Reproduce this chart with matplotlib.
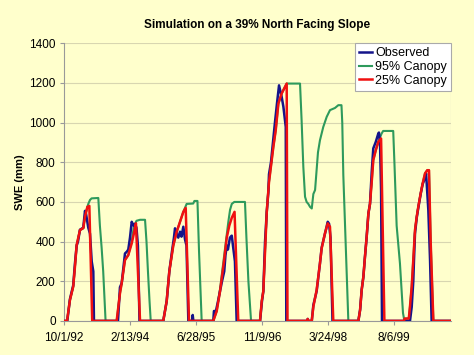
import numpy as np
import pandas as pd
import matplotlib
matplotlib.use("Agg")
import matplotlib.pyplot as plt

plt.rcParams["font.family"] = ["Liberation Sans", "DejaVu Sans"]

START = pd.Timestamp("1992-10-01")

# days since 10/1/92, SWE in mm
obs_days = [0, 25, 45, 70, 83, 96, 106, 121, 146, 159, 167, 184, 197, 210, 222, 227,
            409, 424, 437, 447, 462, 477, 487, 500, 513, 528, 538, 549, 560, 572,
            752, 778, 798, 818, 833, 841, 854, 866, 879, 890, 904, 917, 928, 942, 970, 975, 980,
            1131, 1136, 1151, 1167, 1182, 1197, 1214, 1223, 1233, 1242, 1257, 1271, 1280, 1295, 1308,
            1485, 1500, 1510, 1523, 1536, 1548, 1553, 1568, 1583, 1598, 1614, 1629, 1649, 1662, 1680, 1684,
            1841, 1846, 1851, 1877, 1889, 1914, 1939, 1952, 1977, 1998, 2008, 2019, 2034,
            2230, 2243, 2255, 2268, 2280, 2293, 2306, 2318, 2331, 2343, 2362, 2381, 2386, 2394, 2402, 2409,
            2621, 2634, 2646, 2651, 2659, 2672, 2684, 2702, 2717, 2735, 2743, 2760, 2773, 2785, 2930]
obs_swe = [0, 0, 110, 180, 290, 380, 400, 460, 470, 555, 540, 470, 440, 300, 250, 0,
           0, 170, 190, 250, 340, 350, 360, 420, 500, 480, 490, 470, 380, 0,
           0, 100, 250, 350, 420, 467, 440, 420, 450, 425, 475, 410, 380, 0, 0, 30, 0,
           0, 50, 50, 100, 150, 200, 250, 330, 380, 360, 420, 430, 380, 300, 0,
           0, 100, 150, 400, 550, 650, 740, 800, 900, 1000, 1100, 1188, 1130, 1080, 978, 0,
           0, 10, 0, 0, 80, 150, 290, 370, 440, 500, 490, 420, 0,
           0, 55, 156, 223, 324, 425, 542, 590, 750, 870, 903, 945, 950, 900, 660, 0,
           0, 70, 200, 300, 440, 520, 570, 640, 690, 720, 744, 559, 307, 0, 0]

c95_days = [0, 23, 45, 70, 83, 96, 121, 146, 159, 177, 184, 197, 209, 260, 272, 285, 297, 306, 315,
            399, 424, 437, 462, 487, 513, 528, 549, 576, 614, 625, 636, 648, 657,
            752, 778, 798, 828, 854, 879, 904, 929, 979, 988, 1011, 1023, 1034, 1043,
            1131, 1157, 1182, 1212, 1233, 1245, 1258, 1271, 1290, 1371, 1382, 1397, 1417,
            1485, 1498, 1510, 1523, 1536, 1553, 1586, 1604, 1624, 1649, 1687, 1788, 1800, 1813,
            1826, 1838, 1851, 1864, 1877, 1889, 1902, 1914, 1924, 1939, 1964, 1990, 2015, 2053,
            2078, 2102, 2108, 2116, 2136, 2154,
            2230, 2243, 2255, 2268, 2280, 2293, 2306, 2318, 2331, 2343, 2362, 2381, 2406, 2418,
            2494, 2503, 2520, 2545, 2568, 2576,
            2612, 2621, 2634, 2646, 2659, 2672, 2684, 2702, 2717, 2735, 2752, 2765, 2778, 2798, 2930]
c95_swe = [0, 0, 105, 173, 273, 383, 458, 468, 525, 575, 590, 610, 618, 620, 480, 370, 250, 120, 0,
           0, 139, 190, 307, 332, 400, 470, 505, 510, 510, 400, 250, 100, 0,
           0, 100, 250, 380, 450, 500, 550, 590, 592, 605, 605, 350, 150, 0,
           0, 50, 160, 320, 430, 500, 560, 590, 600, 600, 420, 200, 0,
           0, 100, 150, 350, 550, 700, 878, 962, 1096, 1147, 1197, 1197, 1012, 777,
           626, 600, 590, 575, 567, 640, 660, 760, 850, 911, 978, 1029, 1063, 1074,
           1088, 1088, 1000, 735, 350, 0,
           0, 55, 156, 223, 324, 425, 542, 590, 700, 811, 861, 903, 945, 958,
           958, 800, 480, 290, 40, 10,
           12, 72, 173, 307, 458, 525, 576, 643, 693, 744, 760, 760, 392, 0, 0]

c25_days = [0, 23, 45, 70, 83, 96, 121, 146, 159, 177, 192, 214,
            399, 424, 437, 462, 487, 513, 530, 545, 576,
            752, 778, 798, 828, 854, 879, 904, 922, 947,
            1131, 1157, 1182, 1212, 1233, 1252, 1271, 1292, 1320,
            1485, 1498, 1510, 1523, 1536, 1553, 1586, 1604, 1624, 1649, 1687, 1693,
            1841, 1846, 1851, 1877, 1889, 1914, 1939, 1952, 1977, 1998, 2015, 2040,
            2230, 2243, 2255, 2268, 2280, 2293, 2306, 2318, 2331, 2343, 2362, 2381, 2402, 2427,
            2576, 2580, 2612, 2621, 2634, 2646, 2659, 2672, 2684, 2702, 2717, 2735, 2752, 2765, 2778, 2798, 2930]
c25_swe = [0, 0, 105, 173, 273, 383, 458, 468, 525, 575, 580, 0,
           0, 139, 190, 307, 332, 391, 442, 492, 0,
           0, 100, 250, 380, 450, 500, 550, 570, 0,
           0, 50, 150, 300, 420, 480, 520, 550, 0,
           0, 100, 150, 350, 550, 700, 878, 962, 1096, 1147, 1197, 0,
           0, 10, 0, 0, 72, 156, 290, 366, 442, 492, 475, 0,
           0, 55, 156, 223, 324, 425, 542, 590, 700, 811, 861, 903, 920, 0,
           0, 12, 12, 72, 173, 307, 458, 525, 576, 643, 693, 744, 760, 760, 392, 0, 0]

tick_days = [0, 500, 1000, 1500, 2000, 2500]
tick_labels = ["10/1/92", "2/13/94", "6/28/95", "11/9/96", "3/24/98", "8/6/99"]


def to_dates(days):
    return START + pd.to_timedelta(np.asarray(days), unit="D")


bg = "#ffffcc"
fig = plt.figure(figsize=(4.74, 3.55), dpi=100, facecolor=bg)
ax = fig.add_axes([0.135, 0.096, 0.816, 0.782], facecolor=bg)

ax.plot(to_dates(obs_days), obs_swe, color="#14148a", lw=1.8, label="Observed", zorder=3)
ax.plot(to_dates(c95_days), c95_swe, color="#2e9a5c", lw=1.5, label="95% Canopy", zorder=2)
ax.plot(to_dates(c25_days), c25_swe, color="#f01010", lw=1.8, label="25% Canopy", zorder=4)

ax.set_xlim(START, START + pd.Timedelta(days=2930))
ax.set_ylim(0, 1400)
ax.set_yticks(range(0, 1401, 200))
ax.set_xticks(to_dates(tick_days))
ax.set_xticklabels(tick_labels)
ax.grid(axis="y", color="#d8d6b0", lw=0.8)
ax.set_axisbelow(True)

for side in ["top", "right"]:
    ax.spines[side].set_visible(False)
for side in ["left", "bottom"]:
    ax.spines[side].set_color("#999999")
    ax.spines[side].set_linewidth(0.8)
ax.axvline(START + pd.Timedelta(days=2930), color="#bbbbbb", lw=0.8)
ax.tick_params(axis="both", labelsize=8.5, length=3, color="#999999")
ax.tick_params(axis="x", pad=5)
ax.tick_params(axis="y", pad=3)

ax.set_title("Simulation on a 39% North Facing Slope", fontsize=8.5, fontweight="bold", pad=11)
ax.set_ylabel("SWE (mm)", fontsize=8, fontweight="bold", labelpad=3)

leg = ax.legend(loc="upper right", fontsize=9, frameon=True, fancybox=False,
                borderaxespad=0, handlelength=1.0, handletextpad=0.3,
                labelspacing=0.15, borderpad=0.3)
leg.get_frame().set_edgecolor("#aaaaaa")
leg.get_frame().set_facecolor("white")
leg.get_frame().set_linewidth(0.8)
leg.get_frame().set_alpha(1)

fig.savefig("out.png", dpi=100, facecolor=bg)
